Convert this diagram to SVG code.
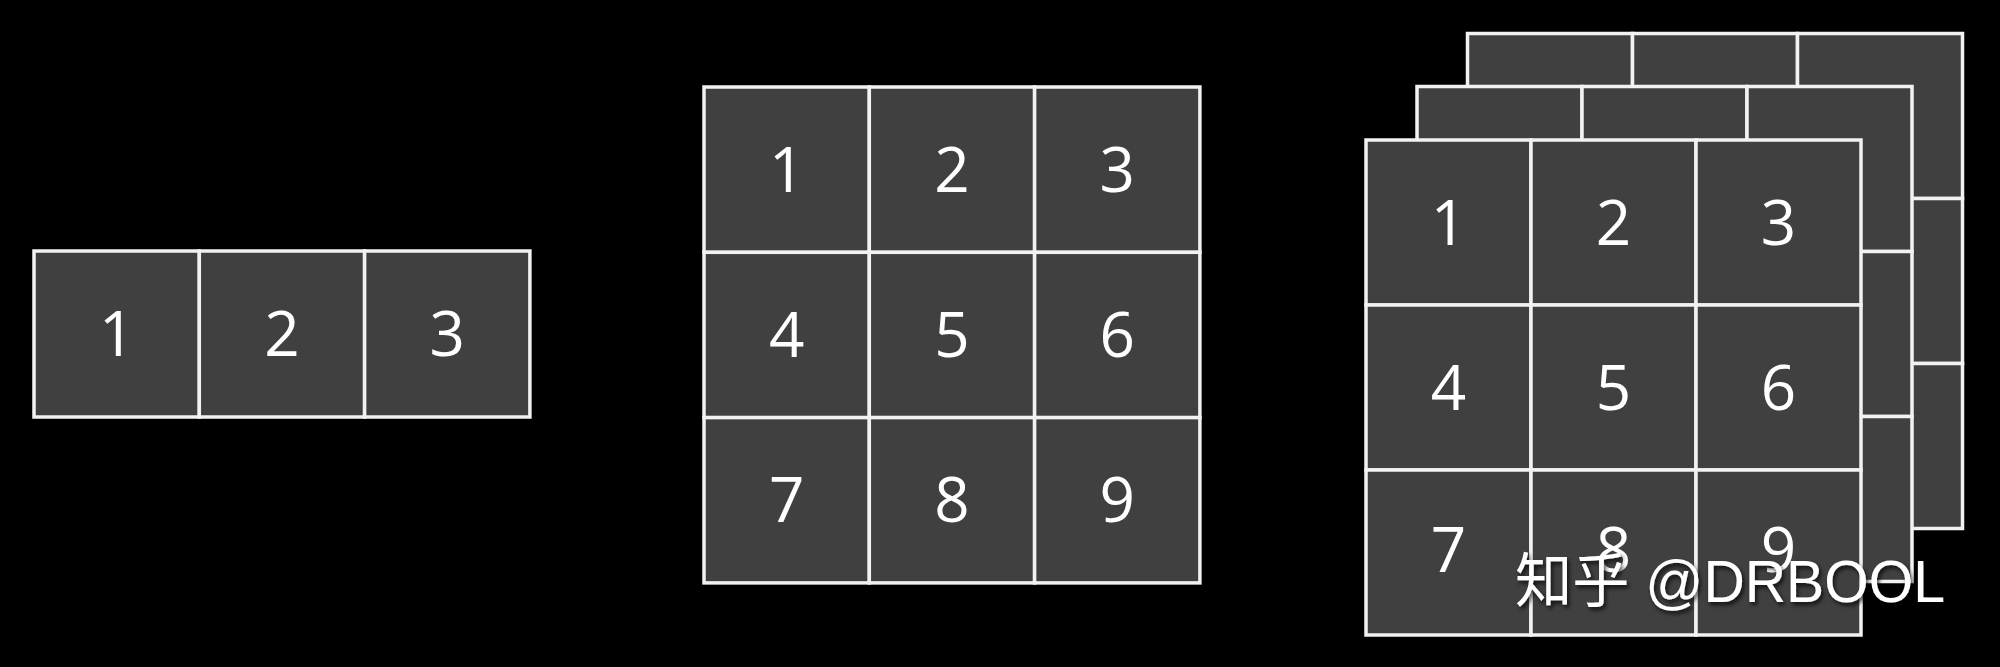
<svg xmlns="http://www.w3.org/2000/svg" width="2000" height="667" viewBox="0 0 2000 667">
<defs>
<style>
.c{fill:#404040;stroke:#f2f2f2;stroke-width:3.5}
.n{fill:#ffffff;font-family:"Open Sans","Noto Sans",sans-serif;font-size:62px;text-anchor:middle}
.wm{fill:#ffffff;font-family:"Liberation Sans","Noto Sans CJK SC",sans-serif;font-size:59px}
</style>
<filter id="sh" x="-10%" y="-30%" width="120%" height="160%">
<feDropShadow dx="2" dy="3" stdDeviation="2" flood-color="#000" flood-opacity="0.75"/>
</filter>
</defs>
<rect width="2000" height="667" fill="#000"/>
<g id="row">
<rect class="c" x="34" y="251" width="165.3" height="166"/>
<rect class="c" x="199.3" y="251" width="165.3" height="166"/>
<rect class="c" x="364.6" y="251" width="165.3" height="166"/>
<text class="n" x="116.7" y="356">1</text>
<text class="n" x="282" y="356">2</text>
<text class="n" x="447.3" y="356">3</text>
</g>
<g id="grid">
<rect class="c" x="704" y="87" width="165.3" height="165.3"/>
<rect class="c" x="869.3" y="87" width="165.3" height="165.3"/>
<rect class="c" x="1034.6" y="87" width="165.3" height="165.3"/>
<rect class="c" x="704" y="252.3" width="165.3" height="165.3"/>
<rect class="c" x="869.3" y="252.3" width="165.3" height="165.3"/>
<rect class="c" x="1034.6" y="252.3" width="165.3" height="165.3"/>
<rect class="c" x="704" y="417.6" width="165.3" height="165.3"/>
<rect class="c" x="869.3" y="417.6" width="165.3" height="165.3"/>
<rect class="c" x="1034.6" y="417.6" width="165.3" height="165.3"/>
<text class="n" x="786.7" y="191.5">1</text>
<text class="n" x="952" y="191.5">2</text>
<text class="n" x="1117.3" y="191.5">3</text>
<text class="n" x="786.7" y="356.8">4</text>
<text class="n" x="952" y="356.8">5</text>
<text class="n" x="1117.3" y="356.8">6</text>
<text class="n" x="786.7" y="522.1">7</text>
<text class="n" x="952" y="522.1">8</text>
<text class="n" x="1117.3" y="522.1">9</text>
</g>
<g id="layer-back">
<rect class="c" x="1467.5" y="33.5" width="165" height="165"/>
<rect class="c" x="1632.5" y="33.5" width="165" height="165"/>
<rect class="c" x="1797.5" y="33.5" width="165" height="165"/>
<rect class="c" x="1467.5" y="198.5" width="165" height="165"/>
<rect class="c" x="1632.5" y="198.5" width="165" height="165"/>
<rect class="c" x="1797.5" y="198.5" width="165" height="165"/>
<rect class="c" x="1467.5" y="363.5" width="165" height="165"/>
<rect class="c" x="1632.5" y="363.5" width="165" height="165"/>
<rect class="c" x="1797.5" y="363.5" width="165" height="165"/>
</g>
<g id="layer-middle">
<rect class="c" x="1417" y="86.5" width="165" height="165"/>
<rect class="c" x="1582" y="86.5" width="165" height="165"/>
<rect class="c" x="1747" y="86.5" width="165" height="165"/>
<rect class="c" x="1417" y="251.5" width="165" height="165"/>
<rect class="c" x="1582" y="251.5" width="165" height="165"/>
<rect class="c" x="1747" y="251.5" width="165" height="165"/>
<rect class="c" x="1417" y="416.5" width="165" height="165"/>
<rect class="c" x="1582" y="416.5" width="165" height="165"/>
<rect class="c" x="1747" y="416.5" width="165" height="165"/>
</g>
<g id="layer-front">
<rect class="c" x="1366" y="140" width="165" height="165"/>
<rect class="c" x="1531" y="140" width="165" height="165"/>
<rect class="c" x="1696" y="140" width="165" height="165"/>
<rect class="c" x="1366" y="305" width="165" height="165"/>
<rect class="c" x="1531" y="305" width="165" height="165"/>
<rect class="c" x="1696" y="305" width="165" height="165"/>
<rect class="c" x="1366" y="470" width="165" height="165"/>
<rect class="c" x="1531" y="470" width="165" height="165"/>
<rect class="c" x="1696" y="470" width="165" height="165"/>
<text class="n" x="1448.5" y="244.5">1</text>
<text class="n" x="1613.5" y="244.5">2</text>
<text class="n" x="1778.5" y="244.5">3</text>
<text class="n" x="1448.5" y="409.5">4</text>
<text class="n" x="1613.5" y="409.5">5</text>
<text class="n" x="1778.5" y="409.5">6</text>
<text class="n" x="1448.5" y="572">7</text>
<text class="n" x="1613.5" y="572">8</text>
<text class="n" x="1778.5" y="572">9</text>
</g>
<g id="watermark">
<text class="wm" x="1515" y="602" textLength="430" lengthAdjust="spacingAndGlyphs" filter="url(#sh)">知乎 @DRBOOL</text>
</g>
</svg>
